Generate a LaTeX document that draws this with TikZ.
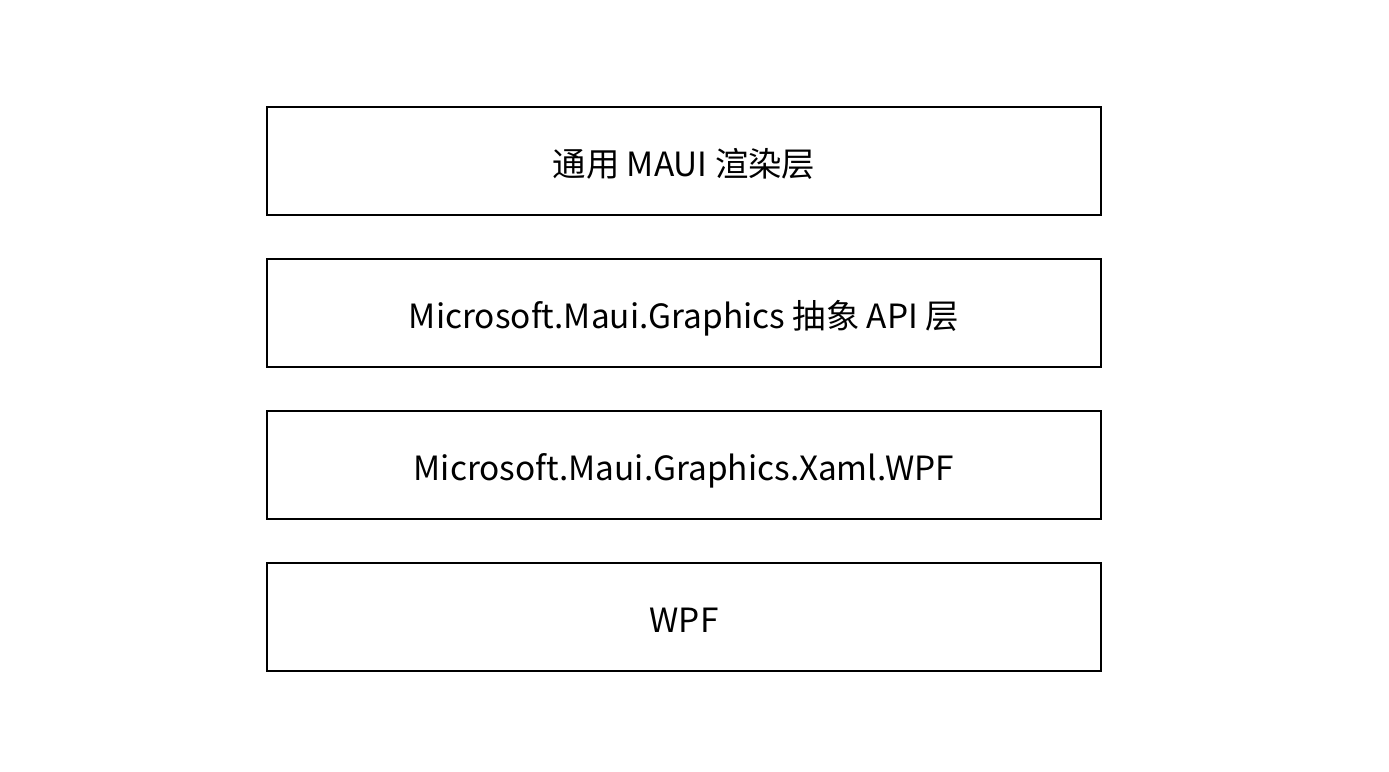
\documentclass[tikz,border=0pt]{standalone}
\usepackage{fontspec}
\setmainfont{Noto Sans CJK SC}
\usetikzlibrary{positioning}

\tikzset{layer/.style={draw,line width=1.1pt,minimum width=16.68cm,minimum height=2.16cm,text height=0.73cm,text depth=0.1cm,font=\fontsize{19}{23}\selectfont}}

\begin{document}
\begin{tikzpicture}
   \useasboundingbox (0,0) rectangle (27.78,-15.42);
   \node[layer] (maui) at (13.68,-3.22) {通用 MAUI 渲染层};
   \node[layer,below=0.84cm of maui] (api) {Microsoft.Maui.Graphics 抽象 API 层};
   \node[layer,below=0.84cm of api] (xaml) {Microsoft.Maui.Graphics.Xaml.WPF};
   \node[layer,below=0.84cm of xaml] (wpf) {WPF};
  \end{tikzpicture}
\end{document}
